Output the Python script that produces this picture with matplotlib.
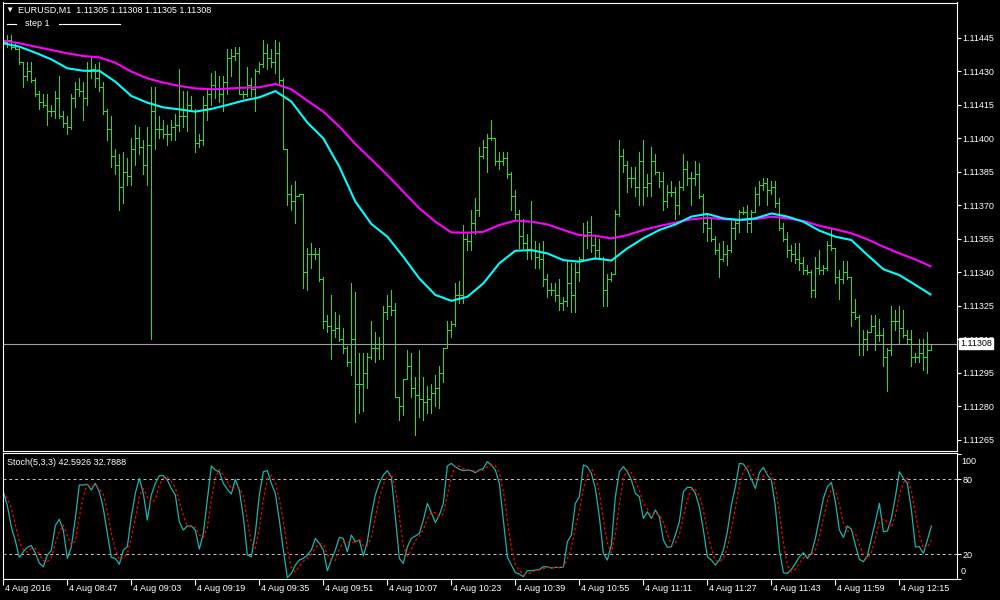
import numpy as np
import pandas as pd
import matplotlib
matplotlib.use("Agg")
import matplotlib.pyplot as plt
import matplotlib.transforms as mtransforms
from matplotlib.lines import Line2D

plt.rcParams['font.family'] = ['Liberation Sans', 'DejaVu Sans']

# EURUSD M1 bars, prices in points above 1.11000 (bar 0 = 08:31)
BASE = 1.11
opens = [445,443,444,441,440,434,428,430,426,420, 416,415,412,412,418,410,407,405,418,422,
         421,418,430,431,427,423,412,404,392,388, 378,385,383,395,400,396,388,397,412,404,
         404,402,402,405,406,410,410,415,412,398, 399,415,420,424,422,420,425,436,437,438,
         420,420,424,422,430,433,438,436,434,438, 426,395,375,372,374,375,340,348,348,348,
         337,318,316,314,315,310,306,300,310,290, 290,295,302,306,306,308,322,325,323,284,
         280,292,298,288,285,283,282,283,286,288, 295,306,314,317,330,330,355,354,362,368,
         392,396,400,400,390,390,391,384,374,366, 356,353,350,350,347,346,337,332,332,330,
         326,327,335,330,340,346,356,358,352,350, 346,332,337,339,366,392,388,382,382,378,
         390,378,380,390,385,381,372,376,376,370, 378,386,382,382,384,374,362,360,355,350,
         346,348,350,360,362,367,367,362,367,375, 379,380,377,378,371,360,355,350,348,346,
         344,341,340,332,342,341,342,352,351,338, 337,340,338,322,320,308,310,313,316,312,
         312,302,305,318,318,315,312,310,302,302, 304,302,305]
highs = [447,446,446,443,441,434,434,434,427,421, 420,420,415,421,428,412,410,420,425,427,
         425,434,437,433,434,425,413,410,395,393, 394,391,400,406,405,399,405,423,423,410,
         408,406,408,411,431,421,421,419,413,402, 419,422,429,430,428,428,440,440,441,441,
         421,432,427,431,434,444,442,440,444,443, 427,395,379,381,375,375,351,353,351,351,
         338,321,330,322,321,315,307,335,331,304, 304,304,318,313,311,325,330,332,326,284,
         292,305,304,293,305,293,289,290,294,298, 306,318,318,335,336,361,357,368,373,396,
         399,402,408,400,394,394,394,385,377,368, 364,357,372,354,353,354,339,335,335,337,
         329,345,344,344,347,362,363,365,356,355, 347,339,340,368,399,395,390,387,387,394,
         399,384,396,393,385,385,379,381,378,381, 393,390,385,390,389,375,366,364,356,353,
         354,352,364,364,368,369,370,368,378,381, 382,382,381,381,373,362,358,352,353,353,
         347,343,341,347,350,343,354,360,351,341, 345,345,338,328,321,314,314,321,321,319,
         315,306,325,323,325,323,314,314,304,310, 310,313,308]
lows = [438,441,440,440,433,423,426,425,419,413, 414,406,410,409,409,405,402,404,414,419,
        408,415,427,423,421,411,399,387,384,368, 371,379,379,388,393,384,379,310,395,400,
        400,397,399,399,403,405,403,412,394,396, 397,408,415,418,416,412,420,428,435,420,
        418,419,419,412,429,432,431,432,429,424, 395,370,368,362,374,333,332,342,346,336,
        315,313,301,311,309,304,298,294,273,277, 278,288,301,300,301,301,319,321,284,274,
        276,292,284,267,275,274,277,277,280,279, 291,306,311,316,326,326,350,350,357,365,
        391,385,399,388,386,388,382,368,364,351, 351,346,346,342,342,334,329,330,327,323,
        323,325,322,322,336,346,351,349,346,346, 325,325,336,339,365,385,376,378,374,370,
        370,374,374,384,378,368,369,374,364,366, 377,379,370,379,373,358,354,354,348,338,
        345,343,349,355,358,366,358,358,367,370, 377,370,375,369,359,354,347,345,344,341,
        339,339,329,329,339,339,341,350,335,328, 335,337,316,319,303,303,305,313,305,309,
        298,287,303,314,308,311,308,298,300,300, 296,295,305]
closes = [443,444,441,440,434,428,430,426,420,416, 415,412,412,418,410,407,405,418,422,421,
          418,430,431,427,423,412,404,392,388,378, 385,383,395,400,396,388,397,412,404,404,
          402,402,405,406,410,410,415,412,398,399, 415,420,424,422,420,425,436,437,438,420,
          420,424,422,430,433,438,436,434,438,426, 395,375,372,374,375,340,348,348,348,337,
          318,316,314,315,310,306,300,310,290,290, 295,302,306,306,308,322,325,323,284,280,
          292,298,288,285,283,282,283,286,288,295, 306,314,317,330,330,355,354,362,368,392,
          396,400,400,390,390,391,384,374,366,356, 353,350,350,347,346,337,332,332,330,326,
          327,335,330,340,346,356,358,352,350,346, 332,337,339,366,392,388,382,382,378,390,
          378,380,390,385,381,372,376,376,370,378, 386,382,382,384,374,362,360,355,350,346,
          348,350,360,362,367,367,362,367,375,379, 380,377,378,371,360,355,350,348,346,344,
          341,340,332,342,341,342,352,351,338,337, 340,338,322,320,308,310,313,316,312,312,
          302,305,318,318,315,312,310,302,302,304, 302,305,308]

# moving averages read every 4th bar (points above 1.11000)
ma_step = 4
ma_fast = [442.5,441,438.3,435.3,431.3,430.2,430.2,425.3,418.9,415.9,
           413.8,412.9,411.9,413.1,414.9,416.8,418.3,421.1,416.4,407,
           399.9,387.2,371.6,361.6,355.9,346.9,337.2,329.8,327.2,329,
           335,344,349.6,349.9,348.4,345.4,344.7,346.2,345.2,350.7,
           355.2,358.9,361.4,364.9,366.1,364.1,363.4,364.1,366.3,364.9,
           362.6,358.6,355.9,354.4,347.7,341.3,338.7,334.3,329.8]
ma_slow = [443.7,442.5,441,439.5,438,436.8,436.2,433.8,429.8,426.8,
           424.9,423.4,422.3,421.9,422.2,422.6,422.8,424.3,421.9,416.8,
           411.9,405.2,397.4,390.5,383.5,376,368.6,362.6,357.8,357.7,
           358.1,361.1,363.1,362.6,361.4,358.9,356.6,356.3,355.1,356.6,
           358.9,360.7,362.2,363.7,364.4,363.7,363.4,363.7,364.9,364.1,
           362.9,360.8,359.2,357.4,354.7,351.4,348.4,345.7,342.5]

# Stoch(5,3,3) main line
stoch_k = [70,59,42,31,17.5,22,25.5,27,21,13, 10,19.4,23,43,48,39.4,16.7,26,48.7,75.4,
           75.4,76,71.4,76.7,70,56.7,36.7,17.5,16.7,12, 23.4,26,50,68.7,80.7,68.7,47.4,67.4,76.7,82.9,
           82.9,79.4,72.7,67.4,46,39.4,42.6,42.6,39.4,24.2, 36.7,63.4,90.6,87.4,86,76.7,72,68.2,80,71.4,
           50,19.4,18,36.7,67.4,86,86.9,76.7,68.7,47.4, 23.4,1.3,4.7,11.4,15.4,16.7,19.4,23.4,32.7,28.7,
           23.4,6.9,15.4,23.4,33.5,32.7,22,35.4,30,31.4, 18.6,30,51.4,67.4,76.7,83.4,86.9,82,50,16.7,
           12.7,26,32.7,34.6,36.7,47.4,60.7,53.3,45.3,51.4, 60.7,90.6,92.7,90,87.9,86.9,87.4,86.9,85.3,87.4,
           88.7,94,91.4,87.4,76.7,47.4,18,11.4,5.3,4.2, 2.1,6.9,6.9,7.4,7.9,10,10,9,9.5,9.5,
           9.5,30,35.4,60.7,66,91.4,90,84.7,72.7,50, 20.7,15.4,27.4,66,86,90,86,79.4,68.7,66,
           48.7,54,48.7,55.4,50,31.4,25.5,26,35.4,46, 70,73.5,73.5,68.7,58,39.4,18,15.4,11.4,15.4,
           23.4,38,59.4,74,92.7,92.2,87.4,80,72.7,85.3, 89.5,83.4,79.4,58,23.4,5.3,4.7,7.9,12.7,18,
           21.3,16.7,20.7,32.7,48.7,64.7,74,77.5,62,39.4, 33.5,42.6,40,27.4,15.9,14.1,18.6,32.7,46,60.7,
           38,38.6,48.7,66,86,80.7,76.7,55.4,26,26, 20.7,31.4,42.6]

time_labels = ["4 Aug 2016", "4 Aug 08:47", "4 Aug 09:03", "4 Aug 09:19", "4 Aug 09:35",
               "4 Aug 09:51", "4 Aug 10:07", "4 Aug 10:23", "4 Aug 10:39", "4 Aug 10:55",
               "4 Aug 11:11", "4 Aug 11:27", "4 Aug 11:43", "4 Aug 11:59", "4 Aug 12:15"]
time_label_bars = [0, 16, 32, 48, 64, 80, 96, 112, 128, 144, 160, 176, 192, 208, 224]
price_ticks = [1.11445, 1.11430, 1.11415, 1.11400, 1.11385, 1.11370, 1.11355,
               1.11340, 1.11325, 1.11310, 1.11295, 1.11280, 1.11265]
last_price = 1.11308

GREEN = "#22e022"
W, H = 1000, 600
fx = lambda px: px / W
fy = lambda py: 1 - py / H

idx = np.arange(len(closes))
o = BASE + np.array(opens) / 1e5
h = BASE + np.array(highs) / 1e5
l = BASE + np.array(lows) / 1e5
c = BASE + np.array(closes) / 1e5
ma_x = np.arange(0, len(closes), ma_step)
fast = BASE + np.array(ma_fast) / 1e5
slow = BASE + np.array(ma_slow) / 1e5
k = np.array(stoch_k)
d = pd.Series(k).rolling(3, min_periods=1).mean().values

fig = plt.figure(figsize=(10, 6), dpi=100, facecolor="black")
ax = fig.add_axes([fx(2.5), fy(451), fx(957) - fx(2.5), fy(2.5) - fy(451)], facecolor="black")
ax2 = fig.add_axes([fx(2.5), fy(579.3), fx(957) - fx(2.5), fy(453) - fy(579.3)], facecolor="black")

xlim = (-0.2, 238.4)

# price bars: 1px stem, 1px open/close ticks
ax.vlines(idx, l, h, colors=GREEN, lw=0.72, antialiased=False)
ax.hlines(o, idx - 0.3, idx, colors=GREEN, lw=0.72, antialiased=False)
ax.hlines(c, idx, idx + 0.3, colors=GREEN, lw=0.72, antialiased=False)
ax.plot(ma_x, slow, color="#ff00ff", lw=1.5, solid_capstyle="butt")
ax.plot(ma_x, fast, color="#00ffff", lw=1.5, solid_capstyle="butt")
ax.axhline(last_price, color="#a0a0a4", lw=0.8)
ax.set_xlim(*xlim)
ax.set_ylim(1.1125994, 1.1146076)
ax.set_xticks([])
ax.yaxis.tick_right()
ax.set_yticks(price_ticks)
ax.set_yticklabels([f"{p:.5f}" for p in price_ticks])
ax.tick_params(axis="y", colors="white", length=3, width=0.8, pad=1, labelsize=6.5)
for s in ax.spines.values():
    s.set_color("white"); s.set_linewidth(0.8)

# stochastic
ax2.axhline(80, color="#c8c8c8", lw=0.7, ls=(0, (3, 3)))
ax2.axhline(20, color="#c8c8c8", lw=0.7, ls=(0, (3, 3)))
ax2.plot(idx, k, color="#20b2aa", lw=0.9)
ax2.plot(idx, d, color="#ff0000", lw=0.9, ls=(0, (2, 2)))
ax2.set_xlim(*xlim)
ax2.set_ylim(0, 101)
ax2.yaxis.tick_right()
ax2.set_yticks([0, 20, 80, 100])
ax2.set_yticklabels(["", "20", "80", ""])
ax2.tick_params(axis="y", colors="white", length=3, width=0.8, pad=1, labelsize=6.5)
ax2.set_xticks(time_label_bars)
ax2.set_xticklabels([])
ax2.tick_params(axis="x", colors="white", length=4, width=0.8, direction="out")
for s in ax2.spines.values():
    s.set_color("white"); s.set_linewidth(0.8)

trans = mtransforms.blended_transform_factory(ax2.transData, ax2.transAxes)
for b, lab in zip(time_label_bars, time_labels):
    ax2.text(b + 0.3, -0.07, lab, transform=trans, ha="left", va="center",
             color="white", fontsize=6.5, clip_on=False)

fig.text(fx(961), fy(461), "100", color="white", fontsize=6.5, va="center", ha="left")
fig.text(fx(961), fy(572), "0", color="white", fontsize=6.5, va="center", ha="left")

# headers
fig.text(fx(5), fy(10.5), "\u25bc", color="white", fontsize=6, va="center", ha="left")
fig.text(fx(18), fy(10), "EURUSD,M1  1.11305 1.11308 1.11305 1.11308", color="white",
         fontsize=6.5, va="center", ha="left")
fig.add_artist(Line2D([fx(7), fx(16)], [fy(24), fy(24)], color="white", lw=0.8))
fig.text(fx(25), fy(23.5), "step 1", color="white", fontsize=6.5, va="center", ha="left")
fig.add_artist(Line2D([fx(59), fx(120)], [fy(24), fy(24)], color="white", lw=0.8))
fig.text(fx(7), fy(462.5), "Stoch(5,3,3) 42.5926 32.7888", color="white",
         fontsize=6.5, va="center", ha="left")

# current price label
fig.text(fx(960), fy(343.5), f"{last_price:.5f}", color="black", fontsize=6.5,
         va="center", ha="left",
         bbox=dict(boxstyle="square,pad=0.15", facecolor="white", edgecolor="white"))

fig.savefig("out.png", dpi=100, facecolor="black")
